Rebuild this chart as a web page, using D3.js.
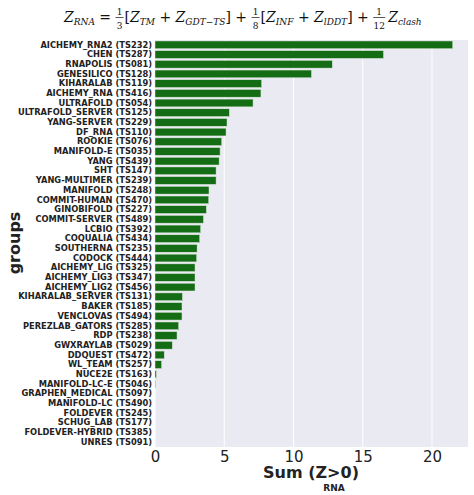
<!DOCTYPE html>
<html><head><meta charset="utf-8">
<script src="https://cdn.jsdelivr.net/npm/d3@7"></script>
<style>body{margin:0;background:#fff} text{white-space:pre}</style>
</head><body>
<svg id="chart" width="474" height="495"></svg>
<script>
var groups = ["AICHEMY_RNA2 (TS232)","CHEN (TS287)","RNAPOLIS (TS081)","GENESILICO (TS128)","KIHARALAB (TS119)",
  "AICHEMY_RNA (TS416)","ULTRAFOLD (TS054)","ULTRAFOLD_SERVER (TS125)","YANG-SERVER (TS229)","DF_RNA (TS110)",
  "ROOKIE (TS076)","MANIFOLD-E (TS035)","YANG (TS439)","SHT (TS147)","YANG-MULTIMER (TS239)","MANIFOLD (TS248)",
  "COMMIT-HUMAN (TS470)","GINOBIFOLD (TS227)","COMMIT-SERVER (TS489)","LCBIO (TS392)","COQUALIA (TS434)",
  "SOUTHERNA (TS235)","CODOCK (TS444)","AICHEMY_LIG (TS325)","AICHEMY_LIG3 (TS347)","AICHEMY_LIG2 (TS456)",
  "KIHARALAB_SERVER (TS131)","BAKER (TS185)","VENCLOVAS (TS494)","PEREZLAB_GATORS (TS285)","RDP (TS238)",
  "GWXRAYLAB (TS029)","DDQUEST (TS472)","WL_TEAM (TS257)","NUCE2E (TS163)","MANIFOLD-LC-E (TS046)",
  "GRAPHEN_MEDICAL (TS097)","MANIFOLD-LC (TS490)","FOLDEVER (TS245)","SCHUG_LAB (TS177)",
  "FOLDEVER-HYBRID (TS385)","UNRES (TS091)"];
var sums = [21.5,16.5,12.8,11.3,7.7,7.65,7.08,5.37,5.2,5.13,4.82,4.7,4.63,4.41,4.41,3.9,3.88,3.71,3.5,3.3,3.23,
  3.04,3.01,2.89,2.89,2.89,1.98,1.95,1.95,1.71,1.59,1.25,0.67,0.48,0.1,0.03,0,0,0,0,0,0];
var xTicks = [0,5,10,15,20];

var svg = d3.select("#chart");
var mLeft = 155, mRight = 468, mTop = 40, mBottom = 447;

var x = d3.scaleLinear().domain([0,22.6]).range([mLeft,mRight]);
var y = d3.scaleBand().domain(groups).range([mTop,mBottom]).paddingInner(0.2).paddingOuter(0.1);

svg.append("rect").attr("x",mLeft).attr("y",mTop).attr("width",mRight-mLeft).attr("height",mBottom-mTop).attr("fill","#eaeaf2");

// grid
svg.selectAll(".grid").data(xTicks).enter().append("line")
  .attr("x1",d=>x(d)).attr("x2",d=>x(d)).attr("y1",mTop).attr("y2",mBottom)
  .attr("stroke","#fff").attr("stroke-width",1);

svg.selectAll(".bar").data(groups).enter().append("rect")
  .attr("x",x(0)).attr("y",d=>y(d))
  .attr("width",(d,i)=>x(sums[i])-x(0)).attr("height",y.bandwidth())
  .attr("fill","#146c14").attr("stroke",(d,i)=>sums[i]>0?"#dfe8df":"none").attr("stroke-width",0.5);

// y labels
var yAxis = svg.append("g").attr("transform","translate("+(mLeft-3)+",0)")
  .call(d3.axisLeft(y).tickSize(0).tickPadding(0));
yAxis.select(".domain").remove();
yAxis.selectAll("text").attr("font-family","DejaVu Sans").attr("font-weight","bold")
  .attr("font-size","8.3px").attr("fill","#222");

// x axis
var xAxis = svg.append("g").attr("transform","translate(0,"+mBottom+")")
  .call(d3.axisBottom(x).tickValues(xTicks).tickSize(0).tickPadding(4));
xAxis.select(".domain").remove();
xAxis.selectAll("text").attr("font-family","DejaVu Sans").attr("font-size","15px").attr("fill","#222");

svg.append("text").attr("x",311).attr("y",478).attr("text-anchor","middle")
  .attr("font-family","DejaVu Sans").attr("font-weight","bold").attr("font-size","16px").attr("fill","#222")
  .text("Sum (Z>0)");
svg.append("text").attr("x",334).attr("y",491).attr("text-anchor","middle")
  .attr("font-family","DejaVu Sans").attr("font-weight","bold").attr("font-size","9px").attr("fill","#222")
  .text("RNA");
svg.append("text").attr("transform","translate(20,243) rotate(-90)").attr("text-anchor","middle")
  .attr("font-family","DejaVu Sans").attr("font-weight","bold").attr("font-size","16px").attr("fill","#222")
  .text("groups");

// title formula
var tg = svg.append("g").attr("font-family","DejaVu Serif").attr("fill","#111");
var cx = 64, base = 22;
function put(str, opts){
  opts = opts||{};
  var t = tg.append("text").attr("x",cx).attr("y",base+(opts.dy||0))
    .attr("font-size",(opts.size||14)+"px").attr("font-style",opts.italic?"italic":"normal").text(str);
  var w = t.node().getComputedTextLength();
  cx += w + (opts.gap||0);
  return w;
}
function sub(main, s){ put(main,{italic:true}); put(s,{italic:true,size:9,dy:3}); }
function frac(n,d){
  var w = n.length>1||d.length>1 ? 12 : 8;
  tg.append("text").attr("x",cx+w/2).attr("y",base-7).attr("text-anchor","middle").attr("font-size","9px").text(n);
  tg.append("text").attr("x",cx+w/2).attr("y",base+7).attr("text-anchor","middle").attr("font-size","9px").text(d);
  tg.append("line").attr("x1",cx).attr("x2",cx+w).attr("y1",base-4.5).attr("y2",base-4.5).attr("stroke","#111").attr("stroke-width",0.7);
  cx += w + 1;
}
sub("Z","RNA"); put(" = ");
frac("1","3"); put("["); sub("Z","TM"); put(" + "); sub("Z","GDT−TS"); put("] + ");
frac("1","8"); put("["); sub("Z","INF"); put(" + "); sub("Z","lDDT"); put("] + ");
frac("1","12"); cx += 2; sub("Z","clash");
</script>
</body></html>
